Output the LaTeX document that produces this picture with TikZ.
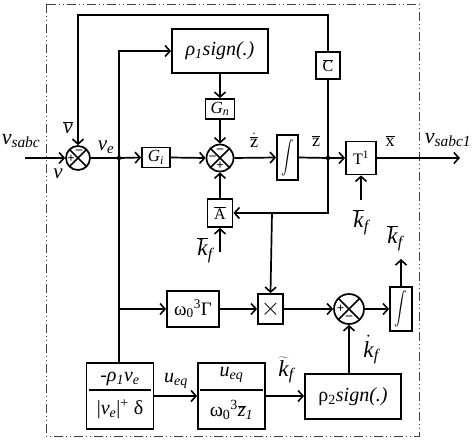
\documentclass[tikz,border=0pt]{standalone}
\usepackage{fontspec}
\setmainfont{Liberation Serif}
\usetikzlibrary{arrows.meta,calc}
\newcommand{\mykbar}{$\overline{\mbox{\textit{k}}}$\textsubscript{\textit{f}}}
\newcommand{\myint}{\scalebox{1.25}[1.65]{$\displaystyle\int$}}
\tikzset{
  ln/.style={line width=1.7pt},
  arr/.style={line width=1.7pt, -{Straight Barb[length=5pt,width=11pt,line width=1.6pt]}},
  blk/.style={draw, line width=1.8pt, inner sep=0pt, align=center},
  sumj/.style={circle, draw, line width=1.7pt, inner sep=0pt,
    path picture={\draw[line width=1.5pt] (path picture bounding box.north west) -- (path picture bounding box.south east)
      (path picture bounding box.north east) -- (path picture bounding box.south west);}},
  sgn/.style={inner sep=0pt, font=\fontsize{13}{13}\selectfont\bfseries},
  lab/.style={inner sep=0pt, font=\fontsize{21}{21}\selectfont},
  mlab/.style={inner sep=0pt, font=\fontsize{18}{18}\selectfont},
  border/.style={line width=1pt, black!75, dash pattern=on 9pt off 3pt on 1pt off 3pt on 1pt off 3pt},
}
\begin{document}
\begin{tikzpicture}[x=1pt,y=-1pt]
\useasboundingbox (0,0) rectangle (474,442);
\draw[border] (46,4) rectangle (419,436);

% summing junctions
\node[sumj, minimum size=24pt] (s1) at (78,158) {};
\node[sumj, minimum size=27pt] (s2) at (220,158) {};
\node[sumj, minimum size=30pt] (s3) at (349,309) {};
\node[sgn] (s1m) at (79,151.5) {–};
\node[sgn] (s1p) at (71,159) {+};
\node[sgn] (s2m) at (220,150.5) {–};
\node[sgn] (s2l) at (212.5,158) {–};
\node[sgn] (s2p) at (220,166) {+};
\node[sgn] (s3p) at (340.5,309) {+};
\node[sgn] (s3m) at (349,317.5) {–};

% blocks
\node[blk, minimum width=96pt, minimum height=44pt, font=\fontsize{20}{20}\selectfont] (rho1) at (220,51) {\textit{ρ}\textsubscript{\textit{1}}\textit{sign(.)}};
\node[blk, minimum width=29pt, minimum height=20pt, font=\fontsize{17}{17}\selectfont] (Gn) at (220,109) {\textit{G}\textsubscript{\textit{n}}};
\node[blk, minimum width=28pt, minimum height=20pt, font=\fontsize{17}{17}\selectfont] (Gi) at (156,157.5) {\textit{G}\textsubscript{\textit{i}}};
\node[blk, minimum width=25pt, minimum height=28pt, font=\fontsize{16}{16}\selectfont] (A) at (220,213) {$\overline{\mbox{A}}$};
\node[blk, minimum width=21pt, minimum height=45pt] (int1) at (287.5,157.5) {\myint};
\node[blk, minimum width=24pt, minimum height=27pt, font=\fontsize{16}{16}\selectfont] (C) at (328,65.5) {$\overline{\mbox{C}}$};
\node[blk, minimum width=30pt, minimum height=33pt, font=\fontsize{16}{16}\selectfont] (T) at (361,158) {T\textsuperscript{1}};
\node[blk, minimum width=52pt, minimum height=36pt, font=\fontsize{19}{19}\selectfont] (om) at (193,309) {ω\textsubscript{0}\textsuperscript{3}Γ};
\node[blk, minimum width=25pt, minimum height=30pt, font=\fontsize{24}{24}\selectfont] (X) at (270.5,309) {$\times$};
\node[blk, minimum width=22pt, minimum height=44pt] (int2) at (401,309) {\myint};
\node[blk, minimum width=67pt, minimum height=66pt] (b1) at (120,396) {};
\node[blk, minimum width=67pt, minimum height=66pt] (b2) at (231.5,396) {};
\node[blk, minimum width=96pt, minimum height=45pt, font=\fontsize{20}{20}\selectfont] (rho2) at (353,396.5) {ρ\textsubscript{2}\textit{sign(.)}};

% fractions inside bottom boxes
\node[mlab, font=\fontsize{20}{20}\selectfont] (b1n) at (120,379) {-\textit{ρ}\textsubscript{\textit{1}}\textit{v}\textsubscript{\textit{e}}};
\draw[line width=1.3pt] ($(b1.west)+(3,-6)$) coordinate (b1l) -- ($(b1.east)+(-3,-6)$) coordinate (b1r);
\node[mlab, font=\fontsize{20}{20}\selectfont] (b1d) at (120,409) {|\textit{v}\textsubscript{\textit{e}}|\textsuperscript{+} δ};
\node[mlab, font=\fontsize{20}{20}\selectfont] (b2n) at (231.5,375) {\textit{u}\textsubscript{\textit{eq}}};
\draw[line width=1.3pt] ($(b2.west)+(3,-6)$) coordinate (b2l) -- ($(b2.east)+(-3,-6)$) coordinate (b2r);
\node[mlab, font=\fontsize{20}{20}\selectfont] (b2d) at (231.5,410) {ω\textsubscript{0}\textsuperscript{3}$\overline{\mbox{\textit{z}}}$\textsubscript{\textit{1}}};

% coordinates
\coordinate (in) at (25,158);
\coordinate (out) at (460,158);
\coordinate (j1) at (119,158);
\coordinate (j2) at (328,158);
\coordinate (j3) at (272,213);
\coordinate (tp) at (200,15);
\coordinate (ka) at (220,252);
\coordinate (kt) at (361,200);
\coordinate (kb) at (401,259);
\fill (j1) circle (2.2pt);
\fill (j2) circle (2.2pt);

% connectors
\draw[arr] (in) -- (s1.west);
\draw[ln] (s1.east) -- (j1);
\draw[arr] (j1) -- (Gi.west);
\draw[arr] (Gi.east) -- (s2.west);
\draw[arr] (j1) |- (rho1.west);
\draw[ln] (j1) -- (j1 |- b1.north);
\draw[arr] (j1 |- om.west) -- (om.west);
\draw[arr] (rho1.south) -- (Gn.north);
\draw[arr] (Gn.south) -- (s2.north);
\draw[arr] (A.north) -- (s2.south);
\draw[arr] (ka) -- (A.south);
\draw[arr] (s2.east) -- (int1.west);
\draw[ln] (int1.east) -- (j2);
\draw[arr] (j2) -- (T.west);
\draw[ln] (j2) -- (C.south);
\draw[arr] (C.north) -- (C.north |- tp) -- (s1.north |- tp) -- (s1.north);
\draw[arr] (j2) -- (j2 |- A.east) -- (A.east);
\draw[arr] (j3) -- (X.north);
\draw[arr] (om.east) -- (X.west);
\draw[arr] (X.east) -- (s3.west);
\draw[arr] (s3.east) -- (int2.west);
\draw[arr] (int2.north) -- (kb);
\draw[arr] (s3.south |- rho2.north) -- (s3.south);
\draw[arr] (b1.east) -- (b2.west);
\draw[arr] (b2.east) -- (b2.east -| rho2.west);
\draw[arr] (T.east) -- (out);
\draw[arr] (kt) -- (T.south);

% labels
\node[lab, font=\fontsize{22}{22}\selectfont] (Lvsabc) at (21,141) {\textit{v}\textsubscript{\textit{sabc}}};
\node[lab] (Lvbar) at (68,128) {$\overline{\mbox{\textit{v}}}$};
\node[lab] (Lv) at (58,174) {\textit{v}};
\node[lab] (Lve) at (106,147) {\textit{v}\textsubscript{\textit{e}}};
\node[mlab] (Lzd) at (254,140) {$\dot{\overline{\mbox{z}}}$};
\node[mlab] (Lzb) at (316,141) {$\overline{\mbox{z}}$};
\node[mlab] (Lxb) at (390,141) {$\overline{\mbox{x}}$};
\node[lab, font=\fontsize{22}{22}\selectfont] (Lout) at (448,140) {\textit{v}\textsubscript{\textit{sabc1}}};
\node[lab, font=\fontsize{23}{23}\selectfont] (Lka) at (206,250) {\mykbar};
\node[lab, font=\fontsize{23}{23}\selectfont] (Lkt) at (362,222) {\mykbar};
\node[lab, font=\fontsize{23}{23}\selectfont] (Lkb) at (396,238) {\mykbar};
\node[lab, font=\fontsize{23}{23}\selectfont] (Lkd) at (372,350) {$\dot{\mbox{\textit{k}}}$\textsubscript{\textit{f}}};
\node[lab, font=\fontsize{23}{23}\selectfont] (Lkt2) at (287,370) {$\widetilde{\mbox{\textit{k}}}$\textsubscript{\textit{f}}};
\node[lab, font=\fontsize{20}{20}\selectfont] (Lueq) at (176,381) {\textit{u}\textsubscript{\textit{eq}}};
\end{tikzpicture}
\end{document}
